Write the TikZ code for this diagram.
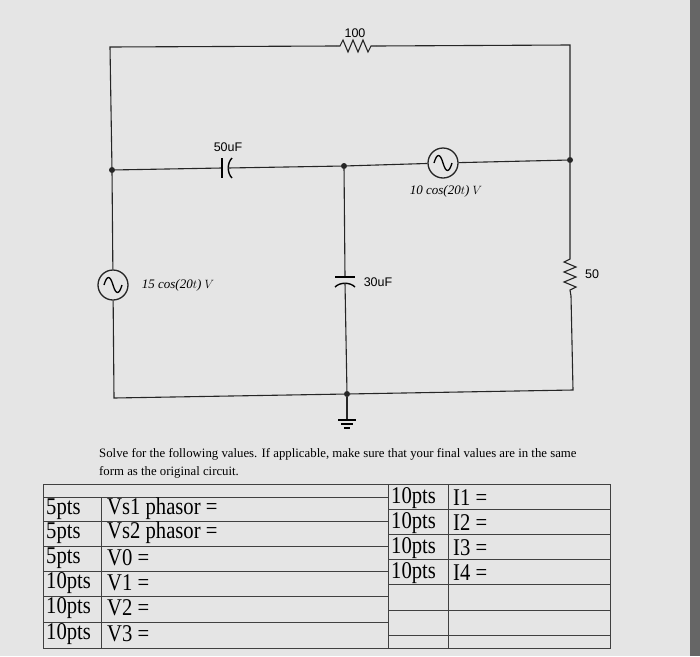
\documentclass[tikz,border=0pt]{standalone}
\usepackage{fontspec}
\setmainfont{Liberation Serif}
\newfontfamily\lsans{Liberation Sans}
\newfontfamily\tserif[FakeStretch=0.86]{Liberation Serif}
\begin{document}
\begin{tikzpicture}[x=1pt,y=-1pt,
 wire/.style={line width=1.1pt,draw=black!85},
 dotn/.style={circle,fill=black!85,inner sep=0pt,minimum size=6pt},
 src/.style={circle,draw=black!85,line width=1.3pt,minimum size=30pt,inner sep=0pt},
 clab/.style={font=\lsans\fontsize{12.5}{14}\selectfont,inner sep=1pt},
 mlab/.style={font=\fontsize{13}{14}\selectfont\itshape,inner sep=1pt},
 tcell/.style={font=\tserif\fontsize{24}{24}\selectfont,anchor=west,inner sep=1pt},
 grid/.style={line width=0.8pt,draw=black!75}]
\fill[black!10] (0,0) rectangle (700,656);
\fill[black!60] (690,0) rectangle (700,656);
\useasboundingbox (0,0) rectangle (700,656);
% nodes
\node[dotn] (nl) at (112,170) {};
\node[dotn] (nm) at (344,166) {};
\node[dotn] (nr) at (570,160) {};
\node[dotn] (nb) at (347,394) {};
\coordinate (tl) at (110,47);
\coordinate (tr) at (570,45);
\coordinate (bl) at (114,398);
\coordinate (br) at (573,390);
\node[src] (s1) at (113,285) {};
\node[src] (s2) at (443,163) {};
\draw[line width=1.3pt] ([xshift=-9pt]s1.center) .. controls +(3,-10) and +(-3,-10) .. (s1.center) .. controls +(3,10) and +(-3,10) .. ([xshift=9pt]s1.center);
\draw[line width=1.3pt] ([xshift=-9pt]s2.center) .. controls +(3,-10) and +(-3,-10) .. (s2.center) .. controls +(3,10) and +(-3,10) .. ([xshift=9pt]s2.center);
% top wire with 100 resistor
\coordinate (r1a) at (336,46);
\coordinate (r1b) at (376,46);
\draw[wire] (nl) -- (tl) -- (r1a);
\draw[wire] (r1a) -- ++(4,0) -- ++(3,-6) -- ++(5,12) -- ++(5,-12) -- ++(5,12) -- ++(5,-12) -- ++(5,12) -- ++(3,-6) -- (r1b);
\draw[wire] (r1b) -- (tr) -- (nr);
\node[clab] (l100) at (355,33) {100};
% middle wire with 50uF
\coordinate (c1a) at (222,168);
\coordinate (c1b) at (228,168);
\draw[wire] (nl) -- (c1a);
\draw[line width=1.4pt] (c1a) ++(0,-10) -- ++(0,20);
\draw[line width=1.4pt] (232,158) .. controls (227,163) and (227,173) .. (232,178);
\draw[wire] (c1b) -- (nm);
\node[clab] (l50u) at (228,147) {50uF};
\draw[wire] (nm) -- (s2) -- (nr);
\node[mlab] (l10) at (446,191) {10 cos(20$t$) $V$};
% left branch
\draw[wire] (nl) -- (s1) -- (bl) -- (nb);
\node[mlab] (l15) at (178,285) {15 cos(20$t$) $V$};
% middle 30uF
\draw[wire] (nm) -- (345,277);
\draw[line width=1.4pt] (335,277) -- (355,277);
\draw[line width=1.4pt] (335,287) .. controls (340,282) and (350,282) .. (355,287);
\draw[wire] (345,283) -- (nb);
\node[clab] (l30) at (378,282) {30uF};
% right 50 resistor
\draw[wire] (nr) -- (570,255) -- ++(0,4) -- ++(-6,3) -- ++(12,5) -- ++(-12,5) -- ++(12,5) -- ++(-12,5) -- ++(12,5) -- ++(-6,3) -- (571,296) -- (br) -- (nb);
\node[clab] (l50) at (592,274) {50};
% ground
\coordinate (g) at (347,420);
\draw[wire] (nb) -- (g);
\draw[line width=1.1pt] (338,420) -- (356,420) (341,424) -- (353,424) (344,428) -- (350,428);
% text
\node[anchor=west,font=\fontsize{12.8}{18}\selectfont,inner sep=0pt,align=left] (txt) at (99,463)
 {Solve for the following values. If applicable, make sure that your final values are in the same\\form as the original circuit.};
% table
\draw[grid] (43,484) rectangle (610,648);
\foreach \y in {509,534,559,584,610,635} \draw[grid] (388,\y) -- (610,\y);
\foreach \y in {497,521,546,571,596,622} \draw[grid] (43,\y) -- (388,\y);
\draw[grid] (388,484) -- (388,648);
\draw[grid] (101,497) -- (101,648);
\draw[grid] (448,484) -- (448,648);
\node[tcell] (a1) at (45,509) {5pts};
\node[tcell] (a2) at (45,533) {5pts};
\node[tcell] (a3) at (45,558) {5pts};
\node[tcell] (a4) at (45,583) {10pts};
\node[tcell] (a5) at (45,608) {10pts};
\node[tcell] (a6) at (45,634) {10pts};
\node[tcell] (b1) at (106,509) {Vs1 phasor =};
\node[tcell] (b2) at (106,533) {Vs2 phasor =};
\node[tcell] (b3) at (106,558) {V0 =};
\node[tcell] (b4) at (106,583) {V1 =};
\node[tcell] (b5) at (106,608) {V2 =};
\node[tcell] (b6) at (106,634) {V3 =};
\node[tcell] (c1) at (390,498) {10pts};
\node[tcell] (c2) at (390,523) {10pts};
\node[tcell] (c3) at (390,548) {10pts};
\node[tcell] (c4) at (390,573) {10pts};
\node[tcell] (d1) at (452,498) {I1 =};
\node[tcell] (d2) at (452,523) {I2 =};
\node[tcell] (d3) at (452,548) {I3 =};
\node[tcell] (d4) at (452,573) {I4 =};
\end{tikzpicture}
\end{document}
